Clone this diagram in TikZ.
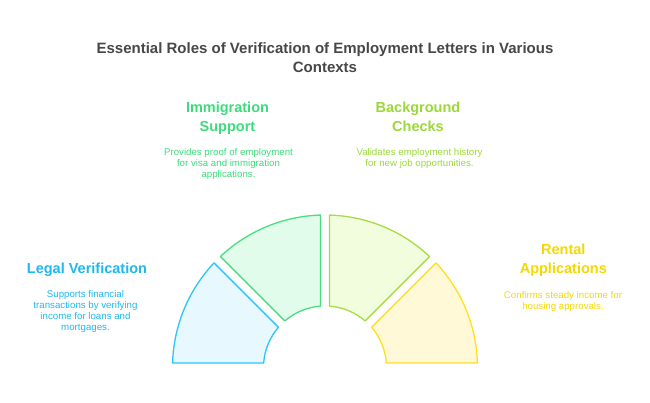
\documentclass[tikz,border=0pt]{standalone}
\usepackage{fontspec}
\setmainfont{Liberation Sans}
\usetikzlibrary{calc}

\definecolor{titlegray}{HTML}{474747}
\definecolor{legalline}{HTML}{2EC4F7}
\definecolor{legalfill}{HTML}{E7F8FE}
\definecolor{legaltext}{HTML}{1EB8F0}
\definecolor{immline}{HTML}{4ADE80}
\definecolor{immfill}{HTML}{E2FCEC}
\definecolor{immtext}{HTML}{3DDB7C}
\definecolor{bgline}{HTML}{A6DC46}
\definecolor{bgfill}{HTML}{F1FDDC}
\definecolor{bgtext}{HTML}{9BD83A}
\definecolor{rentline}{HTML}{FFE01F}
\definecolor{rentfill}{HTML}{FFF9D8}
\definecolor{renttext}{HTML}{F5D800}

\tikzset{
  heading/.style={anchor=north, inner sep=0pt, align=center,
    font=\fontsize{14.5}{19.5}\selectfont\bfseries},
  blurb/.style={anchor=north, inner sep=0pt, align=center,
    font=\fontsize{9.7}{11}\selectfont},
  sector/.style={line width=1.3pt, line join=round}
}

\begin{document}
\begin{tikzpicture}[x=1pt, y=1pt]
  \useasboundingbox (0,0) rectangle (650,403);
  \coordinate (C) at (325,35.5);

  % title
  \node[anchor=north, inner sep=0pt, align=center, text=titlegray,
    font=\fontsize{15}{19.5}\selectfont\bfseries] (title) at (325,360.7)
    {Essential Roles of Verification of Employment Letters in Various\\Contexts};

  % half ring
  \foreach \a/\fc/\dc in {135/legalfill/legalline, 90/immfill/immline,
                          45/bgfill/bgline, 0/rentfill/rentline}
    \draw[sector, draw=\dc, fill=\fc] ($(C)+(\a+1.69:152.5)$)
      arc[start angle=\a+1.69, end angle=\a+43.31, radius=152.5]
      -- ($(C)+(\a+40.8:61.5)$)
      arc[start angle=\a+40.8, end angle=\a+4.2, radius=61.5] -- cycle;

  % labels
  \node[heading, text=legaltext] (legal) at (87,140.7) {Legal Verification};
  \node[blurb, text=legaltext] (legaltxt) at (85.5,113)
    {Supports financial\\transactions by verifying\\income for loans and\\mortgages.};

  \node[heading, text=immtext] (imm) at (227.5,301.3) {Immigration\\Support};
  \node[blurb, text=immtext] (immtxt) at (228.5,254.7)
    {Provides proof of employment\\for visa and immigration\\applications.};

  \node[heading, text=bgtext] (bg) at (418,301.3) {Background\\Checks};
  \node[blurb, text=bgtext] (bgtxt) at (419.5,254.7)
    {Validates employment history\\for new job opportunities.};

  \node[heading, text=renttext] (rent) at (563.3,159.7) {Rental\\Applications};
  \node[blurb, text=renttext] (renttxt) at (563,111.3)
    {Confirms steady income for\\housing approvals.};
\end{tikzpicture}
\end{document}
